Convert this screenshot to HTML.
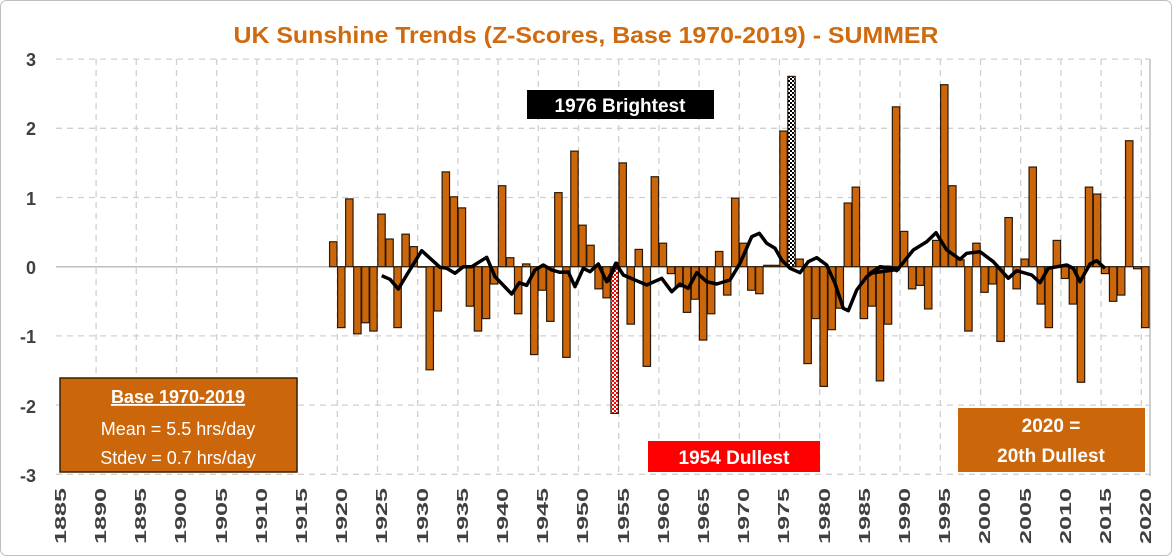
<!DOCTYPE html>
<html><head><meta charset="utf-8"><style>
html,body{margin:0;padding:0;background:#fff}
svg{display:block;font-family:"Liberation Sans",Arial,sans-serif}
</style></head><body>
<svg id="s" width="1173" height="557" viewBox="0 0 1173 557" xmlns="http://www.w3.org/2000/svg">
<defs>
<pattern id="ck" width="4" height="4" patternUnits="userSpaceOnUse"><rect width="4" height="4" fill="#fff"/><rect width="2" height="2" fill="#000"/><rect x="2" y="2" width="2" height="2" fill="#000"/></pattern>
<pattern id="rk" width="4" height="4" patternUnits="userSpaceOnUse"><rect width="4" height="4" fill="#fff"/><rect width="2" height="2" fill="#f00"/><rect x="2" y="2" width="2" height="2" fill="#f00"/></pattern>
</defs>
<rect x="0.5" y="0.5" width="1171" height="555" rx="6" fill="#fff" stroke="#bfbfbf"/>
<text x="586" y="43" text-anchor="middle" font-size="23" font-weight="bold" fill="#d06a0e" textLength="705" lengthAdjust="spacingAndGlyphs">UK Sunshine Trends (Z-Scores, Base 1970-2019) - SUMMER</text>
<g id="grid" stroke="#d0d0d0" stroke-width="1.3" stroke-dasharray="6,5"></g>
<line x1="56" y1="266.7" x2="1150" y2="266.7" stroke="#bfbfbf" stroke-width="1.5"/>
<line x1="1150" y1="59" x2="1150" y2="476" stroke="#bfbfbf" stroke-width="1.5"/>
<g id="bars" stroke="#2a1a0a" stroke-width="1.2"></g>
<polyline id="ma" fill="none" stroke="#000" stroke-width="3.5" stroke-linejoin="round"/>
<g font-size="18" font-weight="bold" fill="#404040" text-anchor="end">
<text x="36" y="66">3</text><text x="36" y="135">2</text><text x="36" y="205">1</text><text x="36" y="274">0</text>
<text x="36" y="343">-1</text><text x="36" y="413">-2</text><text x="36" y="482">-3</text>
</g>
<g font-size="16" font-weight="bold" fill="#404040" text-anchor="end">
<text transform="translate(66,488) rotate(-90)" textLength="56" lengthAdjust="spacingAndGlyphs">1885</text>
<text transform="translate(106,488) rotate(-90)" textLength="56" lengthAdjust="spacingAndGlyphs">1890</text>
<text transform="translate(146,488) rotate(-90)" textLength="56" lengthAdjust="spacingAndGlyphs">1895</text>
<text transform="translate(186,488) rotate(-90)" textLength="56" lengthAdjust="spacingAndGlyphs">1900</text>
<text transform="translate(227,488) rotate(-90)" textLength="56" lengthAdjust="spacingAndGlyphs">1905</text>
<text transform="translate(267,488) rotate(-90)" textLength="56" lengthAdjust="spacingAndGlyphs">1910</text>
<text transform="translate(307,488) rotate(-90)" textLength="56" lengthAdjust="spacingAndGlyphs">1915</text>
<text transform="translate(347,488) rotate(-90)" textLength="56" lengthAdjust="spacingAndGlyphs">1920</text>
<text transform="translate(387,488) rotate(-90)" textLength="56" lengthAdjust="spacingAndGlyphs">1925</text>
<text transform="translate(428,488) rotate(-90)" textLength="56" lengthAdjust="spacingAndGlyphs">1930</text>
<text transform="translate(468,488) rotate(-90)" textLength="56" lengthAdjust="spacingAndGlyphs">1935</text>
<text transform="translate(508,488) rotate(-90)" textLength="56" lengthAdjust="spacingAndGlyphs">1940</text>
<text transform="translate(548,488) rotate(-90)" textLength="56" lengthAdjust="spacingAndGlyphs">1945</text>
<text transform="translate(588,488) rotate(-90)" textLength="56" lengthAdjust="spacingAndGlyphs">1950</text>
<text transform="translate(629,488) rotate(-90)" textLength="56" lengthAdjust="spacingAndGlyphs">1955</text>
<text transform="translate(669,488) rotate(-90)" textLength="56" lengthAdjust="spacingAndGlyphs">1960</text>
<text transform="translate(709,488) rotate(-90)" textLength="56" lengthAdjust="spacingAndGlyphs">1965</text>
<text transform="translate(749,488) rotate(-90)" textLength="56" lengthAdjust="spacingAndGlyphs">1970</text>
<text transform="translate(789,488) rotate(-90)" textLength="56" lengthAdjust="spacingAndGlyphs">1975</text>
<text transform="translate(830,488) rotate(-90)" textLength="56" lengthAdjust="spacingAndGlyphs">1980</text>
<text transform="translate(870,488) rotate(-90)" textLength="56" lengthAdjust="spacingAndGlyphs">1985</text>
<text transform="translate(910,488) rotate(-90)" textLength="56" lengthAdjust="spacingAndGlyphs">1990</text>
<text transform="translate(950,488) rotate(-90)" textLength="56" lengthAdjust="spacingAndGlyphs">1995</text>
<text transform="translate(990,488) rotate(-90)" textLength="56" lengthAdjust="spacingAndGlyphs">2000</text>
<text transform="translate(1031,488) rotate(-90)" textLength="56" lengthAdjust="spacingAndGlyphs">2005</text>
<text transform="translate(1071,488) rotate(-90)" textLength="56" lengthAdjust="spacingAndGlyphs">2010</text>
<text transform="translate(1111,488) rotate(-90)" textLength="56" lengthAdjust="spacingAndGlyphs">2015</text>
<text transform="translate(1151,488) rotate(-90)" textLength="56" lengthAdjust="spacingAndGlyphs">2020</text>
</g>
<rect x="527" y="90" width="187" height="29" fill="#000"/>
<text x="620" y="112" text-anchor="middle" font-size="19" font-weight="bold" fill="#fff">1976 Brightest</text>
<rect x="648" y="441" width="172" height="31" fill="#ff0000"/>
<text x="734" y="464" text-anchor="middle" font-size="19" font-weight="bold" fill="#fff">1954 Dullest</text>
<rect x="60" y="378" width="237" height="94" fill="#cc660a" stroke="#3a2000" stroke-width="1.5"/>
<text x="178" y="403" text-anchor="middle" font-size="18" font-weight="bold" fill="#fff" text-decoration="underline">Base 1970-2019</text>
<text x="178" y="435" text-anchor="middle" font-size="18" fill="#fff">Mean = 5.5 hrs/day</text>
<text x="178" y="464" text-anchor="middle" font-size="18" fill="#fff">Stdev = 0.7 hrs/day</text>
<rect x="958" y="408" width="187" height="64" fill="#cc660a"/>
<text x="1051" y="432" text-anchor="middle" font-size="19" font-weight="bold" fill="#fff">2020 =</text>
<text x="1051" y="462" text-anchor="middle" font-size="19" font-weight="bold" fill="#fff">20th Dullest</text>
</svg>
<script>
var ns="http://www.w3.org/2000/svg";
function gx(y){return 337.3+(y-1920)*8.04;}
function vy(v){return 266.7-v*69.2;}
var g=document.getElementById("grid");
[3,2,1,-1,-2,-3].forEach(function(v){var l=document.createElementNS(ns,"line");l.setAttribute("x1",56);l.setAttribute("x2",1150);l.setAttribute("y1",vy(v));l.setAttribute("y2",vy(v));g.appendChild(l);});
for(var y=1890;y<=2020;y+=5){var l=document.createElementNS(ns,"line");l.setAttribute("x1",gx(y));l.setAttribute("x2",gx(y));l.setAttribute("y1",59);l.setAttribute("y2",476);g.appendChild(l);}
var d=[0.36,-0.88,0.98,-0.97,-0.81,-0.93,0.76,0.40,-0.88,0.47,0.29,0.0,-1.49,-0.64,1.37,1.01,0.85,-0.57,-0.93,-0.75,-0.25,1.17,0.13,-0.68,0.04,-1.27,-0.34,-0.79,1.07,-1.31,1.67,0.60,0.31,-0.32,-0.45,-2.12,
1.50,-0.83,0.25,-1.44,1.30,0.34,-0.1,-0.29,-0.66,-0.47,-1.06,-0.68,0.22,-0.41,0.99,0.34,-0.34,-0.39,0.02,0.02,1.96,2.75,0.11,-1.40,-0.75,-1.73,-0.91,-0.60,0.92,1.15,-0.75,-0.57,-1.65,-0.83,2.31,
0.51,-0.32,-0.27,-0.61,0.38,2.63,1.17,0.1,-0.93,0.34,-0.37,-0.25,-1.08,0.71,-0.32,0.11,1.44,-0.54,-0.88,0.38,-0.17,-0.54,-1.67,1.15,1.05,-0.10,-0.50,-0.41,1.82,-0.03,-0.88];
var b=document.getElementById("bars");
d.forEach(function(v,i){var yr=1919+i;var r=document.createElementNS(ns,"rect");var x=gx(yr)+0.3;r.setAttribute("x",x);r.setAttribute("width",7.4);
var y0=vy(Math.max(v,0)),y1=vy(Math.min(v,0));r.setAttribute("y",y0);r.setAttribute("height",Math.max(y1-y0,0.5));
r.setAttribute("fill",yr==1976?"url(#ck)":yr==1954?"url(#rk)":"#cc660a");b.appendChild(r);});
var p1=[[185,407],[210,418],[235,447],[260,405],[305,332],[360,382],[380,385],[405,400],[430,380],[455,380],[500,352],[525,410],[575,462],[598,428],[620,436],[645,390],[670,375],[695,390],[720,397],[745,396],[765,440],[790,385],[810,395],[835,372],[860,425],[890,370]].map(function(p){return [320+p[0]/3,140+p[1]/3];});
var p2=[[25,662],[47,610],[70,645],[140,675],[185,655],[215,695],[240,672],[265,685],[290,638],[320,665],[350,672],[390,660],[420,610],[455,530],[478,520],[500,550],[525,565],[545,600],[570,625],[600,638],[625,605],[650,593],[680,615],[705,670],[730,745],[745,752],[770,690],[800,650],[840,622],[870,622],[895,628]].map(function(p){return [600+p[0]/3,60+p[1]/3];});
var p3=[[30,640],[60,620],[100,625],[110,632],[160,570],[200,545],[228,518],[260,570],[300,598],[320,580],[360,575],[400,605],[445,655],[470,632],[515,645],[540,668],[565,625],[620,615],[640,625],[660,665],[690,612],[710,602],[735,625]].map(function(p){return [860+p[0]/3,60+p[1]/3];});
document.getElementById("ma").setAttribute("points",p1.concat(p2,p3).map(function(p){return p[0].toFixed(1)+","+p[1].toFixed(1);}).join(" "));
</script>
</body></html>
